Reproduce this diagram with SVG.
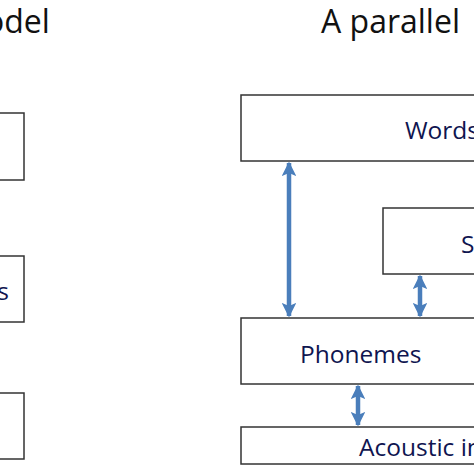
<svg xmlns="http://www.w3.org/2000/svg" width="474" height="474" viewBox="0 0 474 474">
<style>
.box{fill:#fff;stroke:#333;stroke-width:1.5}
.t{font-family:"Open Sans","Noto Sans","Liberation Sans",sans-serif;fill:#0f1550;font-size:24.5px}
.title{font-family:"Open Sans","Noto Sans","Liberation Sans",sans-serif;fill:#111;font-size:32px}
.arr{stroke:#4a7ebb;stroke-width:4.5;fill:none;marker-start:url(#h);marker-end:url(#h)}
</style>
<defs>
<marker id="h" viewBox="0 0 10 10" refX="9" refY="5" markerWidth="3.2" markerHeight="3.2" orient="auto-start-reverse" markerUnits="strokeWidth">
<path d="M0,0 L10,5 L0,10 L2,5 Z" fill="#4a7ebb"/>
</marker>
</defs>
<rect width="474" height="474" fill="#fff"/>
<text class="title" x="-15" y="33">odel</text>
<text class="title" x="321" y="33">A parallel</text>
<g id="left1"><rect class="box" x="-10" y="113" width="34" height="67"/></g>
<g id="left2"><rect class="box" x="-10" y="256" width="34" height="66"/><text class="t" x="9" y="300" text-anchor="end">s</text></g>
<g id="left3"><rect class="box" x="-10" y="393" width="34" height="66"/></g>
<g id="words"><rect class="box" x="241" y="95" width="250" height="66"/><text class="t" x="405" y="139">Words</text></g>
<g id="syllables"><rect class="box" x="383" y="208" width="110" height="66"/><text class="t" x="461" y="253">S</text></g>
<g id="phonemes"><rect class="box" x="241" y="318" width="250" height="66"/><text class="t" x="300" y="363">Phonemes</text></g>
<g id="acoustic"><rect class="box" x="241" y="427" width="250" height="37"/><text class="t" x="359" y="456">Acoustic in</text></g>
<g id="connectors">
<line class="arr" x1="289" y1="163" x2="289" y2="316"/>
<line class="arr" x1="420" y1="276" x2="420" y2="316"/>
<line class="arr" x1="358" y1="386" x2="358" y2="425"/>
</g>
</svg>
